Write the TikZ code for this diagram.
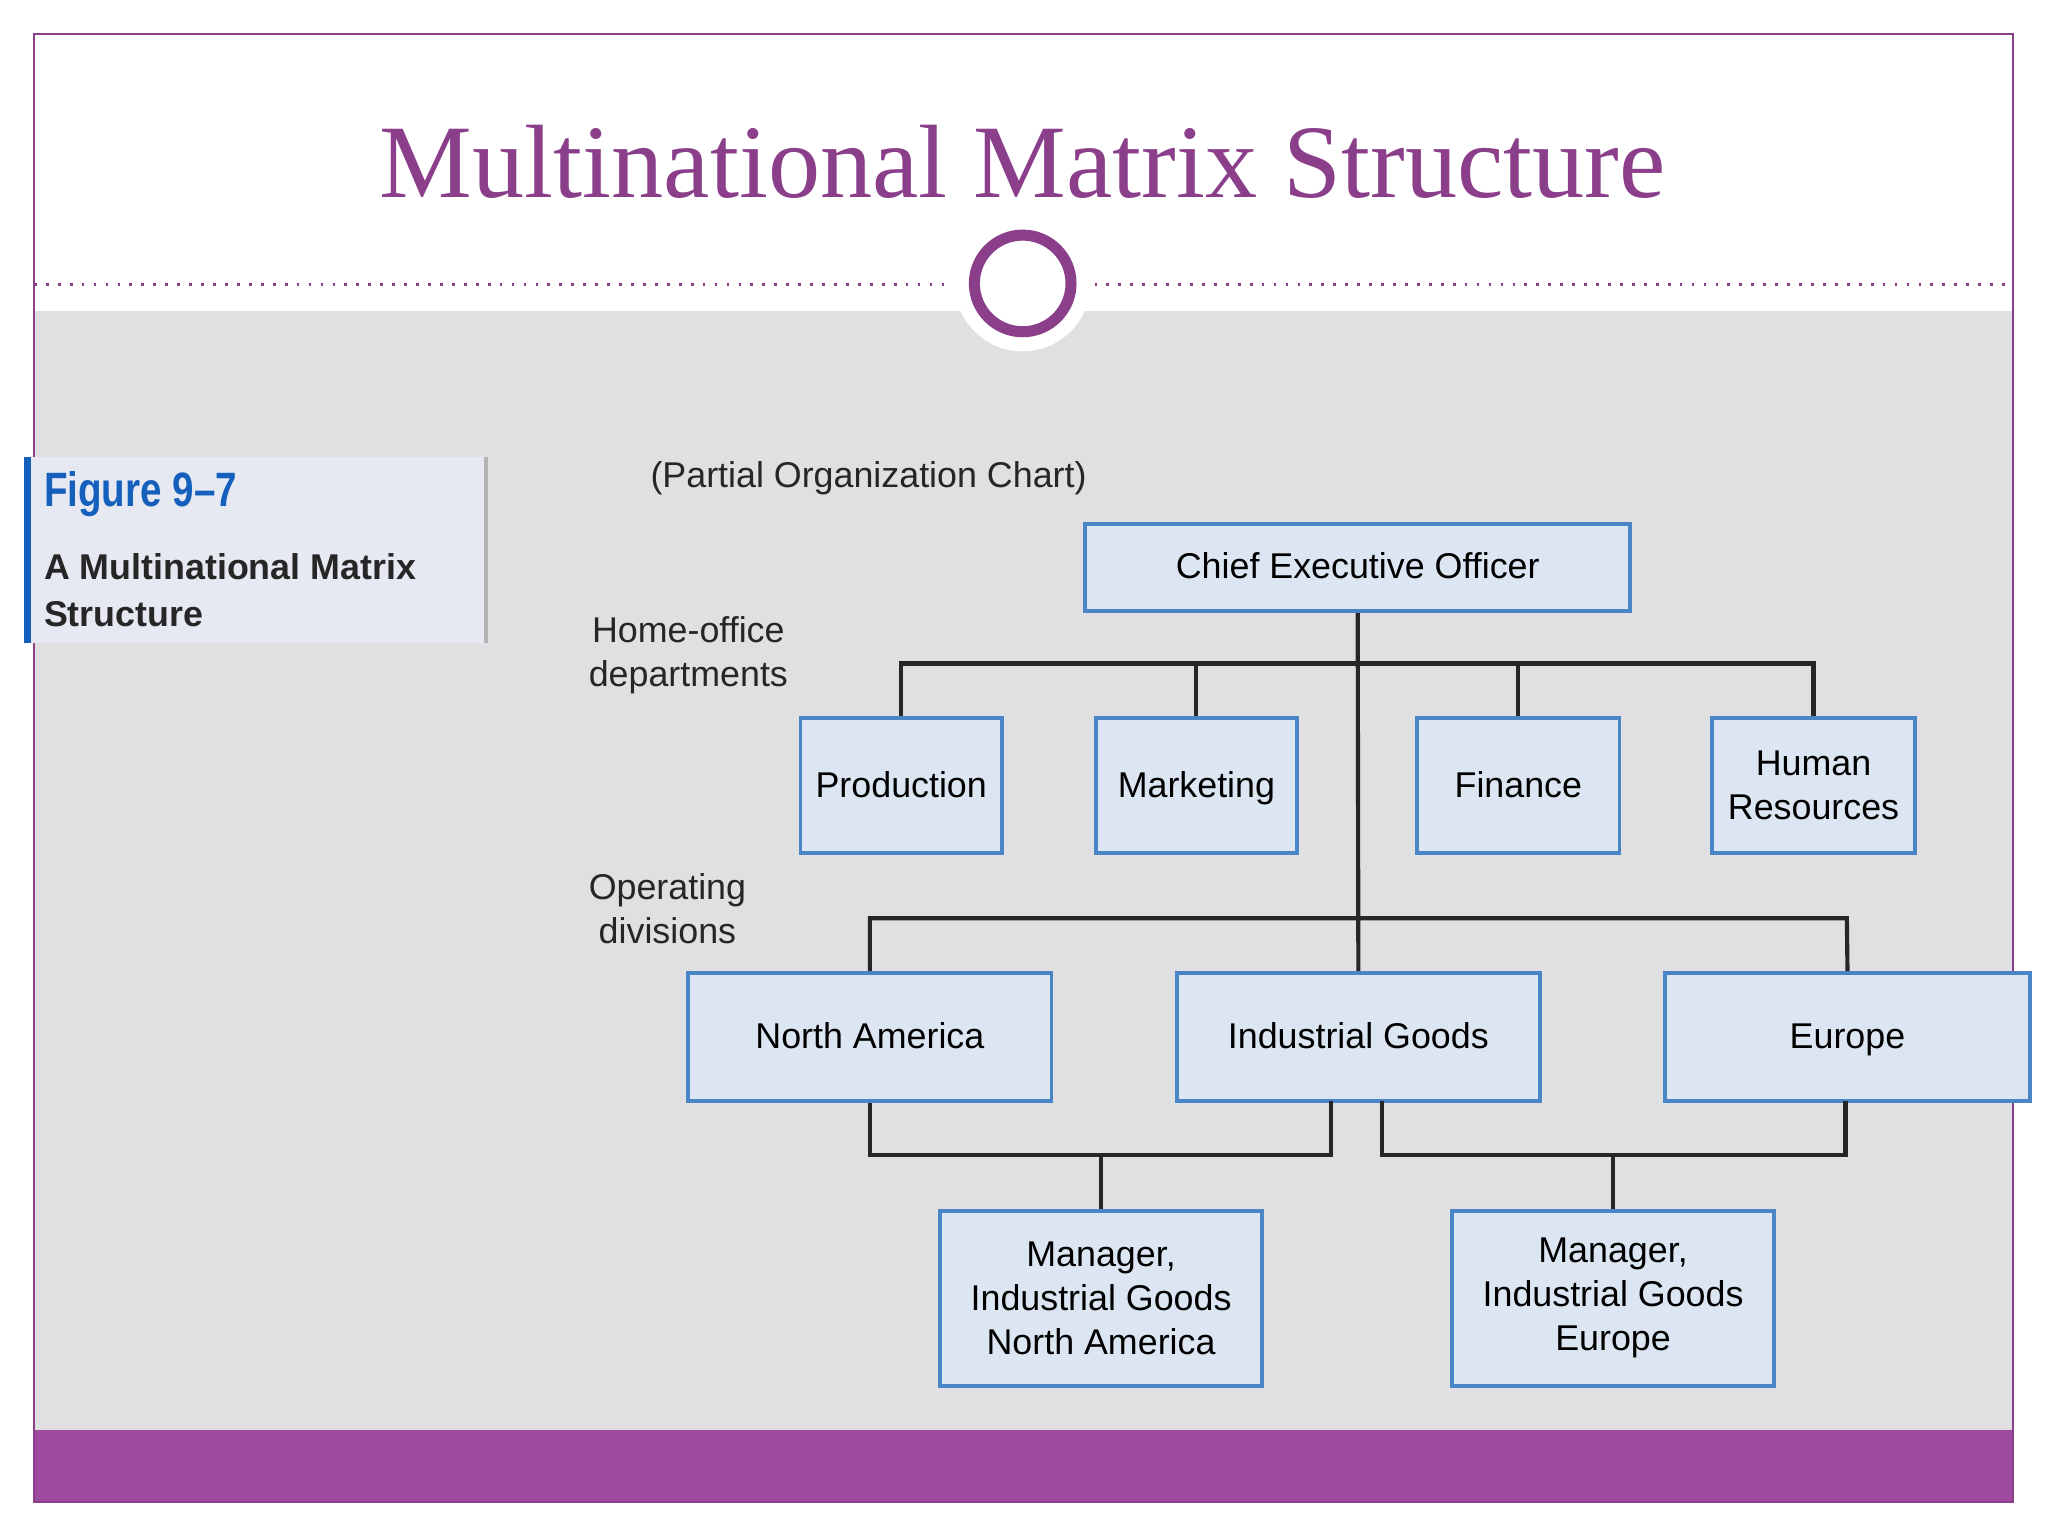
\documentclass[tikz,border=0pt]{standalone}
\usepackage{fontspec}
\setmainfont{Liberation Serif}
\setsansfont{Liberation Sans}
\newfontfamily\condf[FakeStretch=0.8]{Liberation Sans}
\definecolor{purp}{HTML}{8B3F8B}
\definecolor{bar}{HTML}{9E4A9E}
\definecolor{bg}{HTML}{E0DFE2}
\definecolor{bfill}{HTML}{DCE6F2}
\definecolor{bdraw}{HTML}{4A86C5}
\definecolor{figblue}{HTML}{1560BD}
\definecolor{figbg}{HTML}{E6E9F2}
\begin{document}
\begin{tikzpicture}[x=0.01cm,y=-0.01cm,
 box/.style={draw=bdraw,fill=bfill,line width=0.8pt,font=\sffamily\fontsize{7.8}{9.6}\selectfont,align=center,inner sep=0pt},
 one/.style={text height=0.72em,text depth=0.22em},
 conn/.style={line width=0.9pt,draw=black!85},
 lab/.style={font=\sffamily\fontsize{7.8}{9.6}\selectfont,align=center,text=black!85}]
\useasboundingbox (0,0) rectangle (1568,1176);
\fill[white] (0,0) rectangle (1568,1176);
\fill[bg] (26,238) rectangle (1541,1095);
\fill[bar] (26,1095) rectangle (1541,1150);
\draw[purp,line width=0.5pt] (26,26) rectangle (1541,1150);
\node[font=\fontsize{22.7}{26}\selectfont,text=purp] (title) at (783,124) {Multinational Matrix Structure};
\draw[purp,dotted,line width=0.6pt] (26,218) -- (730,218) (838,218) -- (1541,218);
\fill[white] (783,217) circle (52);
\draw[purp,line width=2.4pt] (783,217) circle (37);
% figure box
\fill[figbg] (20,350) rectangle (372,492);
\draw[figblue,line width=1.5pt] (21,350) -- (21,492);
\draw[black!30,line width=1pt] (372,350) -- (372,492);
\node[anchor=west,text=figblue,font=\condf\bfseries\fontsize{10.5}{13}\selectfont,inner sep=0pt] (fig) at (33,378) {Figure 9–7};
\node[anchor=north west,align=left,font=\sffamily\bfseries\fontsize{7.8}{10.2}\selectfont,text=black!85,inner sep=0pt] (figt) at (33,423) {A Multinational Matrix\\Structure};
% labels
\node[lab] (pc) at (665,366) {(Partial Organization Chart)};
\node[lab] (ho) at (527,502) {Home-office\\departments};
\node[lab] (od) at (511,696) {Operating\\divisions};
% boxes
\node[box,one,minimum width=4.17cm,minimum height=0.67cm] (ceo) at (1039.5,434.5) {Chief Executive Officer};
\node[box,one,minimum width=1.54cm,minimum height=1.03cm] (prod) at (690,601.5) {Production};
\node[box,one,minimum width=1.54cm,minimum height=1.03cm] (mkt) at (916,601.5) {Marketing};
\node[box,one,minimum width=1.55cm,minimum height=1.03cm] (fin) at (1162.5,601.5) {Finance};
\node[box,minimum width=1.55cm,minimum height=1.03cm] (hr) at (1388.5,601.5) {Human\\Resources};
\node[box,one,minimum width=2.78cm,minimum height=0.98cm] (na) at (666,794) {North America};
\node[box,one,minimum width=2.78cm,minimum height=0.98cm] (ig) at (1040,794) {Industrial Goods};
\node[box,one,minimum width=2.79cm,minimum height=0.98cm] (eu) at (1414.5,794) {Europe};
\node[box,minimum width=2.46cm,minimum height=1.34cm] (m1) at (843,994) {Manager,\\Industrial Goods\\North America};
\node[box,minimum width=2.46cm,minimum height=1.34cm] (m2) at (1235,994) {Manager,\\Industrial Goods\\Europe\vphantom{g}};
% connectors
\draw[conn] (ceo.south) -- (ig.north);
\draw[conn] (prod.north) |- (hr.north |- 0,508) -- (hr.north);
\draw[conn] (mkt.north) -- (mkt.north |- 0,508);
\draw[conn] (fin.north) -- (fin.north |- 0,508);
\draw[conn] (na.north) |- (1414,703) -- (eu.north);
\coordinate (igl) at (1019,843);
\coordinate (igr) at (1058,843);
\draw[conn] (na.south) |- (1019,884) -- (igl);
\draw[conn] (m1.north) -- (843,884);
\draw[conn] (igr) |- (1413,884) -- (1413,843);
\draw[conn] (m2.north) -- (1235,884);
\end{tikzpicture}
\end{document}
